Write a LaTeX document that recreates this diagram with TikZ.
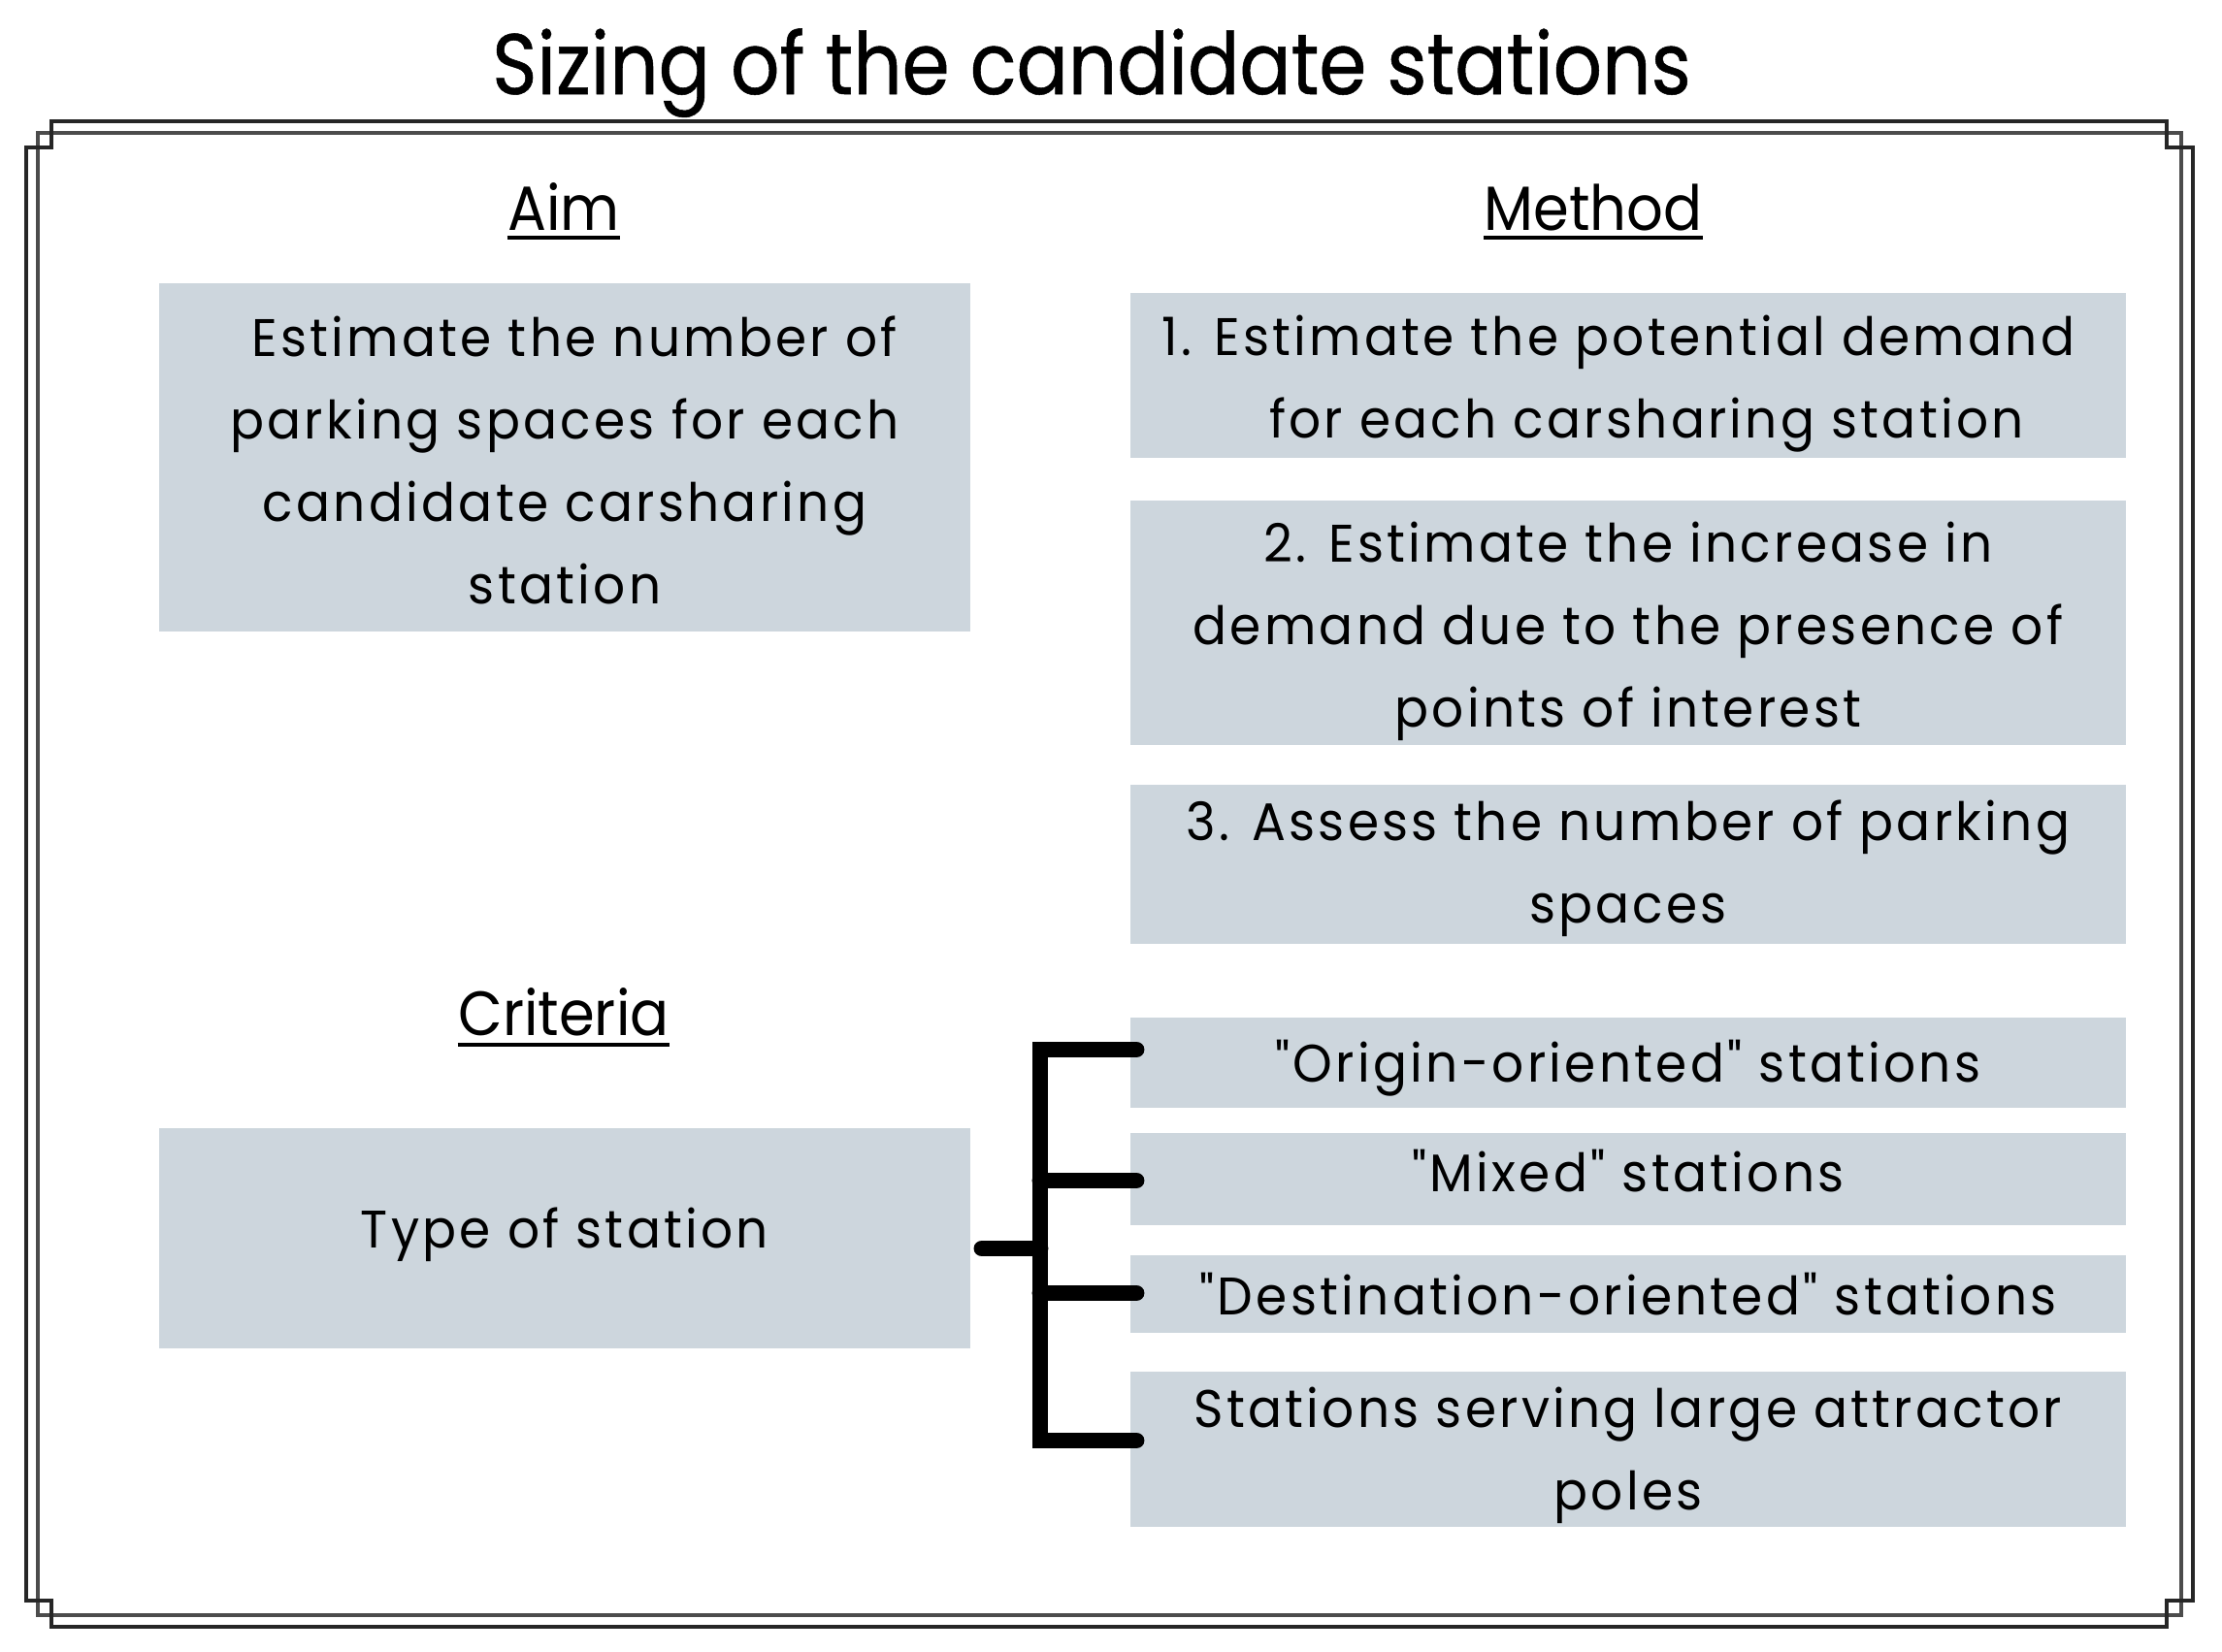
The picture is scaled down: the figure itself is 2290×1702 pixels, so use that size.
\documentclass[tikz,border=0pt]{standalone}
\usepackage{fontspec}
\setmainfont{Poppins}[FakeStretch=0.95, LetterSpace=6, Ligatures=TeXOff]
\newfontfamily\hfont{Poppins}[FakeStretch=0.92, Ligatures=TeXOff]
\newfontfamily\tfont{Poppins}[FakeStretch=0.89, FakeBold=0.6, Ligatures=TeXOff]
\definecolor{boxc}{RGB}{205,214,221}
\begin{document}
\begin{tikzpicture}[x=0.01cm,y=-0.01cm,
  box/.style={fill=boxc, inner sep=0pt},
  txt/.style={inner sep=0pt, align=center, font=\fontsize{15.5}{24.2}\selectfont},
  head/.style={inner sep=0pt, anchor=base, font=\hfont\fontsize{18.3}{22}\selectfont},
  ul/.style={line width=1.1pt},
  brk/.style={line width=4.8pt, line cap=round, line join=miter},
  frm/.style={line width=0.9pt}]
\useasboundingbox (0,0) rectangle (2290,1702);
% frame
\draw[frm, black!70] (39,137) rectangle (2248,1665);
\draw[frm, black!85] (53,125) -- (2233,125) -- (2233,152) -- (2260,152) -- (2260,1650) -- (2233,1650) -- (2233,1677) -- (53,1677) -- (53,1650) -- (27,1650) -- (27,152) -- (53,152) -- cycle;
% title
\node[anchor=base, inner sep=0pt, font=\tfont\fontsize{25.2}{30}\selectfont] (title) at (1125,97) {Sizing of the candidate stations};
% headers
\node[head] (aimh) at (581,237) {Aim};
\node[head] (meth) at (1642,237) {Method};
\node[head] (crit) at (581,1067) {Criteria};
\draw[ul] ([yshift=-0.08cm]aimh.base west) -- ([yshift=-0.08cm]aimh.base east);
\draw[ul] ([yshift=-0.08cm]meth.base west) -- ([yshift=-0.08cm]meth.base east);
\draw[ul] ([yshift=-0.10cm]crit.base west) -- ([yshift=-0.10cm]crit.base east);
% boxes
\node[box, minimum width=8.36cm, minimum height=3.59cm] (aim) at (582,471.5) {};
\node[box, minimum width=10.26cm, minimum height=1.70cm] (m1) at (1678,387) {};
\node[box, minimum width=10.26cm, minimum height=2.52cm] (m2) at (1678,642) {};
\node[box, minimum width=10.26cm, minimum height=1.64cm] (m3) at (1678,891) {};
\node[box, minimum width=8.36cm, minimum height=2.27cm] (type) at (582,1276.5) {};
\node[box, minimum width=10.26cm, minimum height=0.93cm] (o1) at (1678,1095.5) {};
\node[box, minimum width=10.26cm, minimum height=0.95cm] (o2) at (1678,1215.5) {};
\node[box, minimum width=10.26cm, minimum height=0.80cm] (o3) at (1678,1334) {};
\node[box, minimum width=10.26cm, minimum height=1.60cm] (o4) at (1678,1494) {};
% texts
\node[txt] (aimt) at ([yshift=-0.03cm]aim.center)
  {\hspace*{0.2cm}Estimate the number of\\parking spaces for each\\candidate carsharing\\station};
\node[txt] (m1t) at ([xshift=-0.1cm,yshift=-0.09cm]m1.center)
  {1. Estimate the potential demand\\\hspace*{0.58cm}for each carsharing station};
\node[txt] (m2t) at ([yshift=-0.09cm]m2.center)
  {2. Estimate the increase in\\demand due to the presence of\\points of interest};
\node[txt] (m3t) at ([yshift=-0.04cm]m3.center)
  {3. Assess the number of parking\\spaces};
\node[txt] (typet) at ([yshift=0.04cm]type.center) {Type of station};
\node[txt] (o1t) at ([yshift=-0.06cm]o1.center) {"Origin-oriented" stations};
\node[txt] (o2t) at ([yshift=0.08cm]o2.center) {"Mixed" stations};
\node[txt] (o3t) at (o3.center) {"Destination-oriented" stations};
\node[txt] (o4t) at ([yshift=-0.06cm]o4.center) {Stations serving large attractor\\poles};
% bracket
\coordinate (jn) at (1072,1287);
\draw[brk] ([shift={(7,-13.5)}]o1.west) -| (1072,1485) -- ([shift={(7,-9)}]o4.west);
\draw[brk] (1072,1217) -- ([shift={(7,1.5)}]o2.west);
\draw[brk] (1072,1333) -- ([shift={(7,-1)}]o3.west);
\draw[brk] ([shift={(11,10.5)}]type.east) -- (jn);
\end{tikzpicture}
\end{document}
